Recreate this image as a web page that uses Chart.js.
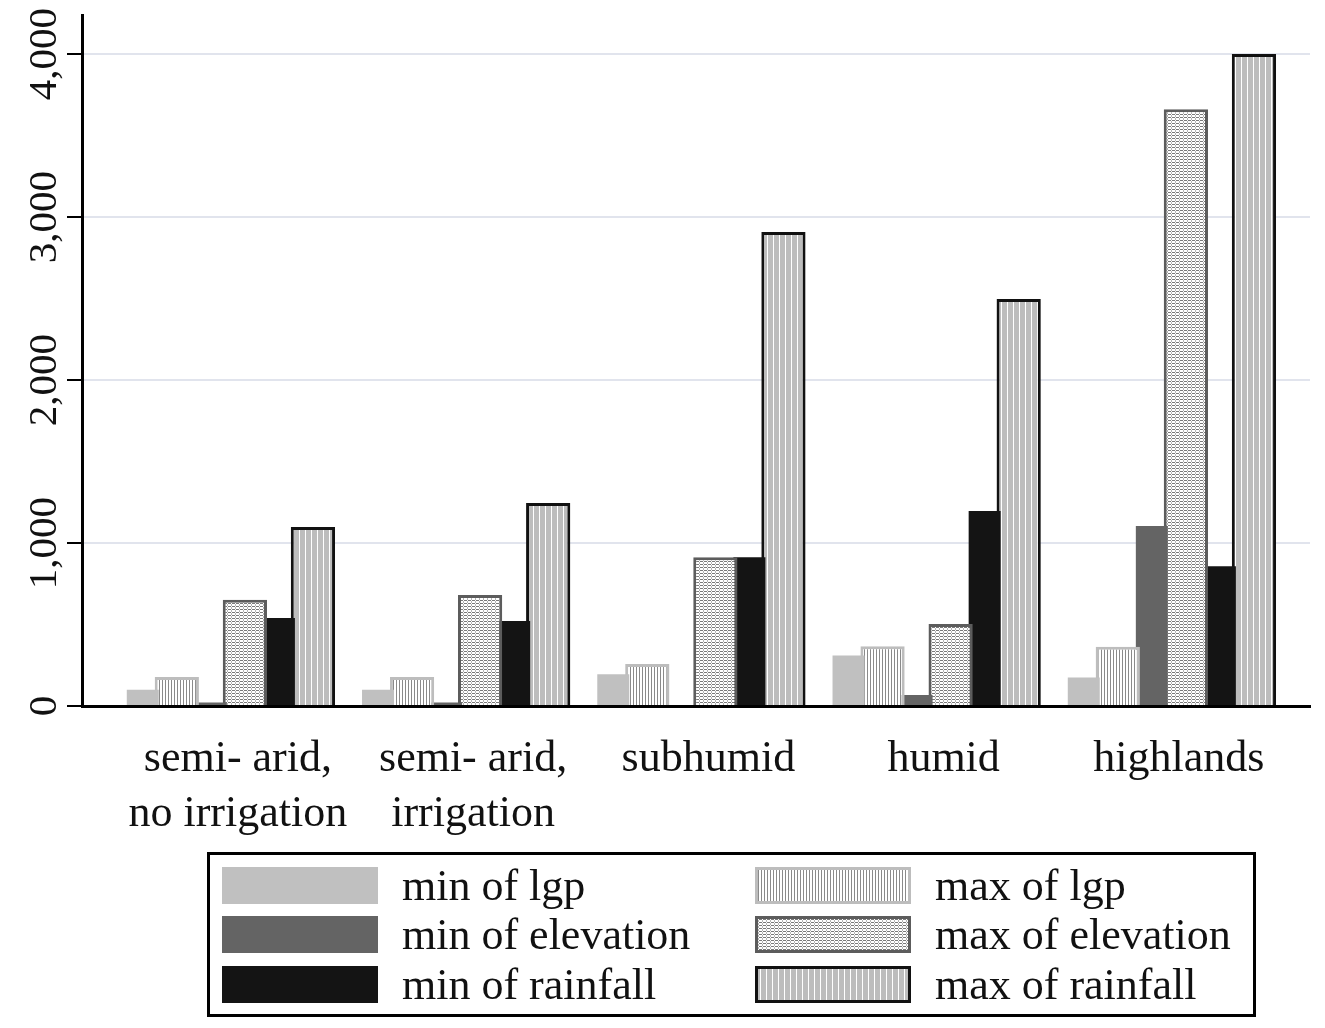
<!DOCTYPE html>
<html>
<head>
<meta charset="utf-8">
<script src="https://cdn.jsdelivr.net/npm/chart.js@4"></script>
<style>
  html, body { margin: 0; padding: 0; background: #fff; }
  #wrap { position: relative; width: 1325px; height: 1028px; }
  #legend {
    position: absolute; left: 207px; top: 852px; width: 1043px; height: 159px;
    border: 3px solid #000; font-family: "Liberation Serif", serif; font-size: 44px; color: #111;
  }
  .item { position: absolute; display: flex; align-items: center; height: 38px; white-space: nowrap; }
  .item canvas { margin-right: 24px; display: block; }
</style>
</head>
<body>
<div id="wrap">
  <canvas id="myChart" width="1325" height="1028"></canvas>
  <div id="legend"></div>
</div>
<script>
// categories and values
const categories = [['semi- arid,', 'no irrigation'], ['semi- arid,', 'irrigation'], 'subhumid', 'humid', 'highlands'];
const minLgp   = [100, 100, 195, 310, 175];
const maxLgp   = [178, 178, 258, 367, 363];
const minElev  = [22, 22, 0, 68, 1104];
const maxElev  = [652, 681, 913, 503, 3662];
const minRain  = [540, 521, 913, 1196, 857];
const maxRain  = [1098, 1245, 2908, 2497, 4000];
const yTicks   = [0, 1000, 2000, 3000, 4000];
const seriesLabels = ['min of lgp', 'max of lgp', 'min of elevation', 'max of elevation', 'min of rainfall', 'max of rainfall'];
const seriesValues = [minLgp, maxLgp, minElev, maxElev, minRain, maxRain];

const FONT = '"Liberation Serif", serif';

// fill patterns like the stata ones
function makePattern(ctx, kind) {
  const t = document.createElement('canvas');
  const c = t.getContext('2d');
  if (kind === 'fine') {
    t.width = 3; t.height = 1;
    c.fillStyle = '#fff'; c.fillRect(0, 0, 3, 1);
    c.fillStyle = '#8a8a8a'; c.fillRect(0, 0, 1, 1);
  } else if (kind === 'dash') {
    t.width = 4; t.height = 3;
    c.fillStyle = '#fff'; c.fillRect(0, 0, 4, 3);
    c.fillStyle = '#7a7a7a'; c.fillRect(0, 0, 3, 1);
    c.fillStyle = '#b4b4b4'; c.fillRect(3, 1, 1, 2);
  } else {
    t.width = 6; t.height = 1;
    c.fillStyle = '#bdbdbd'; c.fillRect(0, 0, 6, 1);
    c.fillStyle = '#fff'; c.fillRect(5, 0, 1, 1);
  }
  return ctx.createPattern(t, 'repeat');
}

// min bars narrow and solid, max bars a bit wider and patterned
const styles = [
  { fill: '#c0c0c0', border: '#c0c0c0', bw: 0, pct: 0.94 },
  { fill: 'fine', border: '#bdbdbd', bw: 3, pct: 1.3 },
  { fill: '#646464', border: '#646464', bw: 0, pct: 0.94 },
  { fill: 'dash', border: '#5c5c5c', bw: 3, pct: 1.3 },
  { fill: '#141414', border: '#141414', bw: 0, pct: 0.94 },
  { fill: 'wide', border: '#111', bw: 3, pct: 1.3 }
];
function fillFor(ctx, s) {
  return s.fill.startsWith('#') ? s.fill : makePattern(ctx, s.fill);
}

const ctx = document.getElementById('myChart');
const c2d = ctx.getContext('2d');

new Chart(ctx, {
  type: 'bar',
  data: {
    labels: categories,
    datasets: seriesValues.map((vals, i) => ({
      label: seriesLabels[i],
      data: vals,
      backgroundColor: fillFor(c2d, styles[i]),
      borderColor: styles[i].border,
      borderWidth: styles[i].bw,
      categoryPercentage: 0.868,
      barPercentage: styles[i].pct
    }))
  },
  options: {
    responsive: false,
    animation: false,
    layout: { padding: { top: 15, right: 15, left: 0, bottom: 0 } },
    plugins: { legend: { display: false }, tooltip: { enabled: false } },
    scales: {
      x: {
        // stretch the category spacing a little, as in the picture
        afterBuildTicks: s => { s._startValue = -0.62; s._valueRange = 5.22; },
        afterFit: s => { s.height = 322; },
        grid: { display: false, drawTicks: false },
        border: { display: true, color: '#000', width: 3 },
        ticks: {
          font: { family: FONT, size: 44, lineHeight: 1.25 },
          color: '#111', padding: 26, labelOffset: 10,
          maxRotation: 0, autoSkip: false
        }
      },
      y: {
        min: 0,
        max: 4240,
        afterBuildTicks: s => { s.ticks = yTicks.map(v => ({ value: v })); },
        afterFit: s => { s.width = 82; },
        grid: { color: '#e1e4ed', lineWidth: 2, tickLength: 15, tickColor: '#000', tickWidth: 2 },
        border: { color: '#000', width: 3 },
        ticks: {
          autoSkip: false,
          minRotation: 90, maxRotation: 90,
          crossAlign: 'center',
          padding: -24,
          font: { family: FONT, size: 41 },
          color: '#111',
          callback: v => v.toLocaleString('en-US')
        }
      }
    }
  }
});

// legend: two columns, min on the left, max on the right
const legend = document.getElementById('legend');
const rowTops = [11, 60, 110];
seriesLabels.forEach((lab, i) => {
  const col = i % 2, row = Math.floor(i / 2);
  const item = document.createElement('div');
  item.className = 'item';
  item.style.left = (col === 0 ? 12 : 545) + 'px';
  item.style.top = rowTops[row] + 'px';
  const sw = document.createElement('canvas');
  sw.width = 156; sw.height = 37;
  const sc = sw.getContext('2d');
  const s = styles[i];
  sc.fillStyle = fillFor(sc, s);
  sc.fillRect(0, 0, 156, 37);
  if (s.bw) {
    sc.strokeStyle = s.border; sc.lineWidth = s.bw;
    sc.strokeRect(s.bw / 2, s.bw / 2, 156 - s.bw, 37 - s.bw);
  }
  const tx = document.createElement('span');
  tx.textContent = lab;
  item.appendChild(sw);
  item.appendChild(tx);
  legend.appendChild(item);
});
</script>
</body>
</html>
